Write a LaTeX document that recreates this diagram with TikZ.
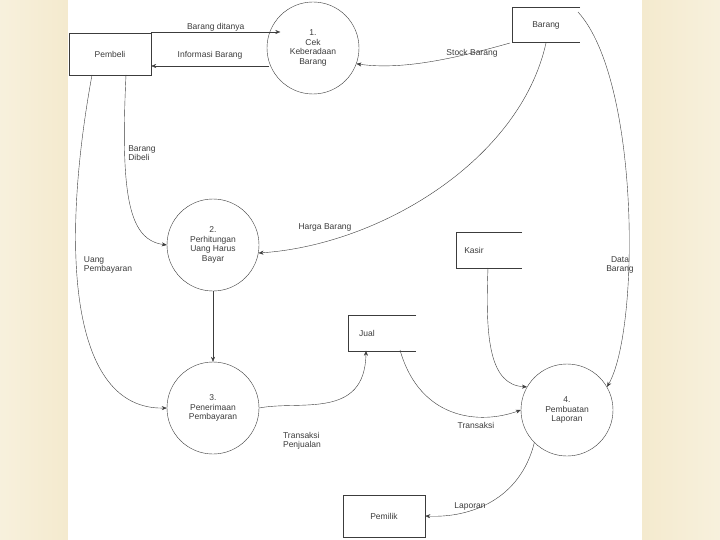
\documentclass[tikz,border=0pt]{standalone}
\usepackage{fontspec}
\setmainfont{Liberation Sans}
\usetikzlibrary{arrows.meta}
\definecolor{beige}{RGB}{244,234,206}
\definecolor{ink}{RGB}{60,60,60}
\begin{document}
\begin{tikzpicture}[x=1pt,y=-1pt,
  every node/.style={font=\fontsize{8.5}{9.5}\selectfont,text=ink,align=center},
  proc/.style={draw=ink,circle,minimum size=92pt,inner sep=0pt},
  ent/.style={draw=ink,rectangle,minimum width=82pt,minimum height=42pt},
  store/.style={rectangle,minimum width=68pt,minimum height=35pt},
  flow/.style={draw=ink,-{Stealth[length=5pt,width=4pt]}},
  lbl/.style={inner sep=1pt}]
\useasboundingbox (0,0) rectangle (720,540);
\shade[left color=beige!70!white,right color=beige] (0,0) rectangle (68,540);
\shade[left color=beige,right color=beige!70!white] (642,0) rectangle (720,540);
\fill[white] (68,0) rectangle (642,540);
\node[ent] (pembeli) at (110,54) {Pembeli};
\node[ent] (pemilik) at (384,516) {Pemilik};
\node[proc] (p1) at (313,48) {1.\\Cek\\Keberadaan\\Barang};
\node[proc] (p2) at (213,245) {2.\\Perhitungan\\Uang Harus\\Bayar};
\node[proc] (p3) at (213,408) {3.\\Penerimaan\\Pembayaran};
\node[proc] (p4) at (567,410) {4.\\Pembuatan\\Laporan};
\node[store] (barang) at (546,25) {Barang};
\node[store,minimum width=66pt,minimum height=36pt] (kasir) at (489,250) {\hspace*{-30pt}Kasir};
\node[store] (jual) at (382,333) {\hspace*{-30pt}Jual};
\foreach \s in {barang,kasir,jual}
  \draw[ink] (\s.north east)--(\s.north west)--(\s.south west)--(\s.south east);
\coordinate (a1) at (151,32);
\draw[flow] (a1) -- (p1.north west |- a1) node[lbl,midway,above] {Barang ditanya};
\coordinate (a2) at (269,66);
\draw[flow] (a2) -- (pembeli.east |- a2) node[lbl,midway,above,yshift=6pt] {Informasi Barang};
\coordinate (b1) at (510,43);
\draw[flow] (b1) .. controls (450,60) and (400,70) .. (p1.-20);
\node at (472,53) {Stock Barang};
\coordinate (b2) at (546,43);
\draw[flow] (b2) .. controls (520,160) and (380,245) .. (p2.-10);
\node at (325,227) {Harga Barang};
\coordinate (b3) at (578,12);
\draw[flow] (b3) .. controls (640,80) and (640,330) .. (p4.30);
\node at (620,265) {Data\\Barang};
\coordinate (c1) at (126,75);
\draw[flow] (c1) .. controls (120,200) and (130,240) .. (p2.west);
\node[align=left] at (142,153) {Barang\\Dibeli};
\coordinate (c2) at (92,75);
\draw[flow] (c2) .. controls (60,250) and (70,410) .. (p3.west);
\node[align=left] at (108,265) {Uang\\Pembayaran};
\draw[flow] (p2.south) -- (p3.north);
\draw[flow] (p3.east) .. controls (300,400) and (365,420) .. (jual.south west -| 366,0);
\node[align=left] at (302,441) {Transaksi\\Penjualan};
\coordinate (j1) at (400,350);
\draw[flow] (j1) .. controls (420,420) and (480,425) .. (p4.west);
\node at (476,425) {Transaksi};
\coordinate (k1) at (488,268);
\draw[flow] (k1) .. controls (485,340) and (490,385) .. (p4.150);
\draw[flow] (p4.225) .. controls (520,500) and (470,518) .. (pemilik.east);
\node at (470,506) {Laporan};
\end{tikzpicture}
\end{document}
